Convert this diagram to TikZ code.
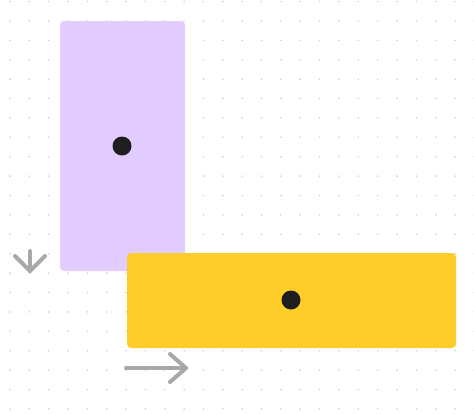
\documentclass[tikz,border=0pt]{standalone}
\definecolor{gridc}{HTML}{CFCFCF}
\definecolor{purp}{HTML}{E3CCFF}
\definecolor{yell}{HTML}{FFCD29}
\definecolor{dotc}{HTML}{1E1E1E}
\definecolor{arrc}{HTML}{A8A8A8}
\tikzset{
  box/.style={rounded corners=4pt},
  handle/.style={fill=dotc},
  arr/.style={draw=arrc, line width=4pt, line cap=round, line join=round}
}
\begin{document}
\begin{tikzpicture}[x=1pt,y=-1pt]
\fill[white] (0,0) rectangle (474,413);
\useasboundingbox (0,0) rectangle (474,413);
\foreach \i in {0,...,24}{
  \foreach \j in {0,...,21}{
    \fill[gridc] ({10+19.35*\i},{1.5+19.4*\j}) circle (0.9);
  }
}
\fill[purp, box] (60,21) rectangle (185,271);
\fill[yell, box] (127,253) rectangle (456,348);
\fill[handle] (122,146) circle (9.5);
\fill[handle] (291,300) circle (9.5);
\coordinate (d1) at (30,251);
\coordinate (d2) at (30,271);
\draw[arr] (d1) -- (d2);
\draw[arr] (15,256) -- (d2) -- (45,256);
\coordinate (r1) at (126,368);
\coordinate (r2) at (186,368);
\draw[arr] (r1) -- (r2);
\draw[arr] (170,354) -- (r2) -- (170,382);
\end{tikzpicture}
\end{document}
